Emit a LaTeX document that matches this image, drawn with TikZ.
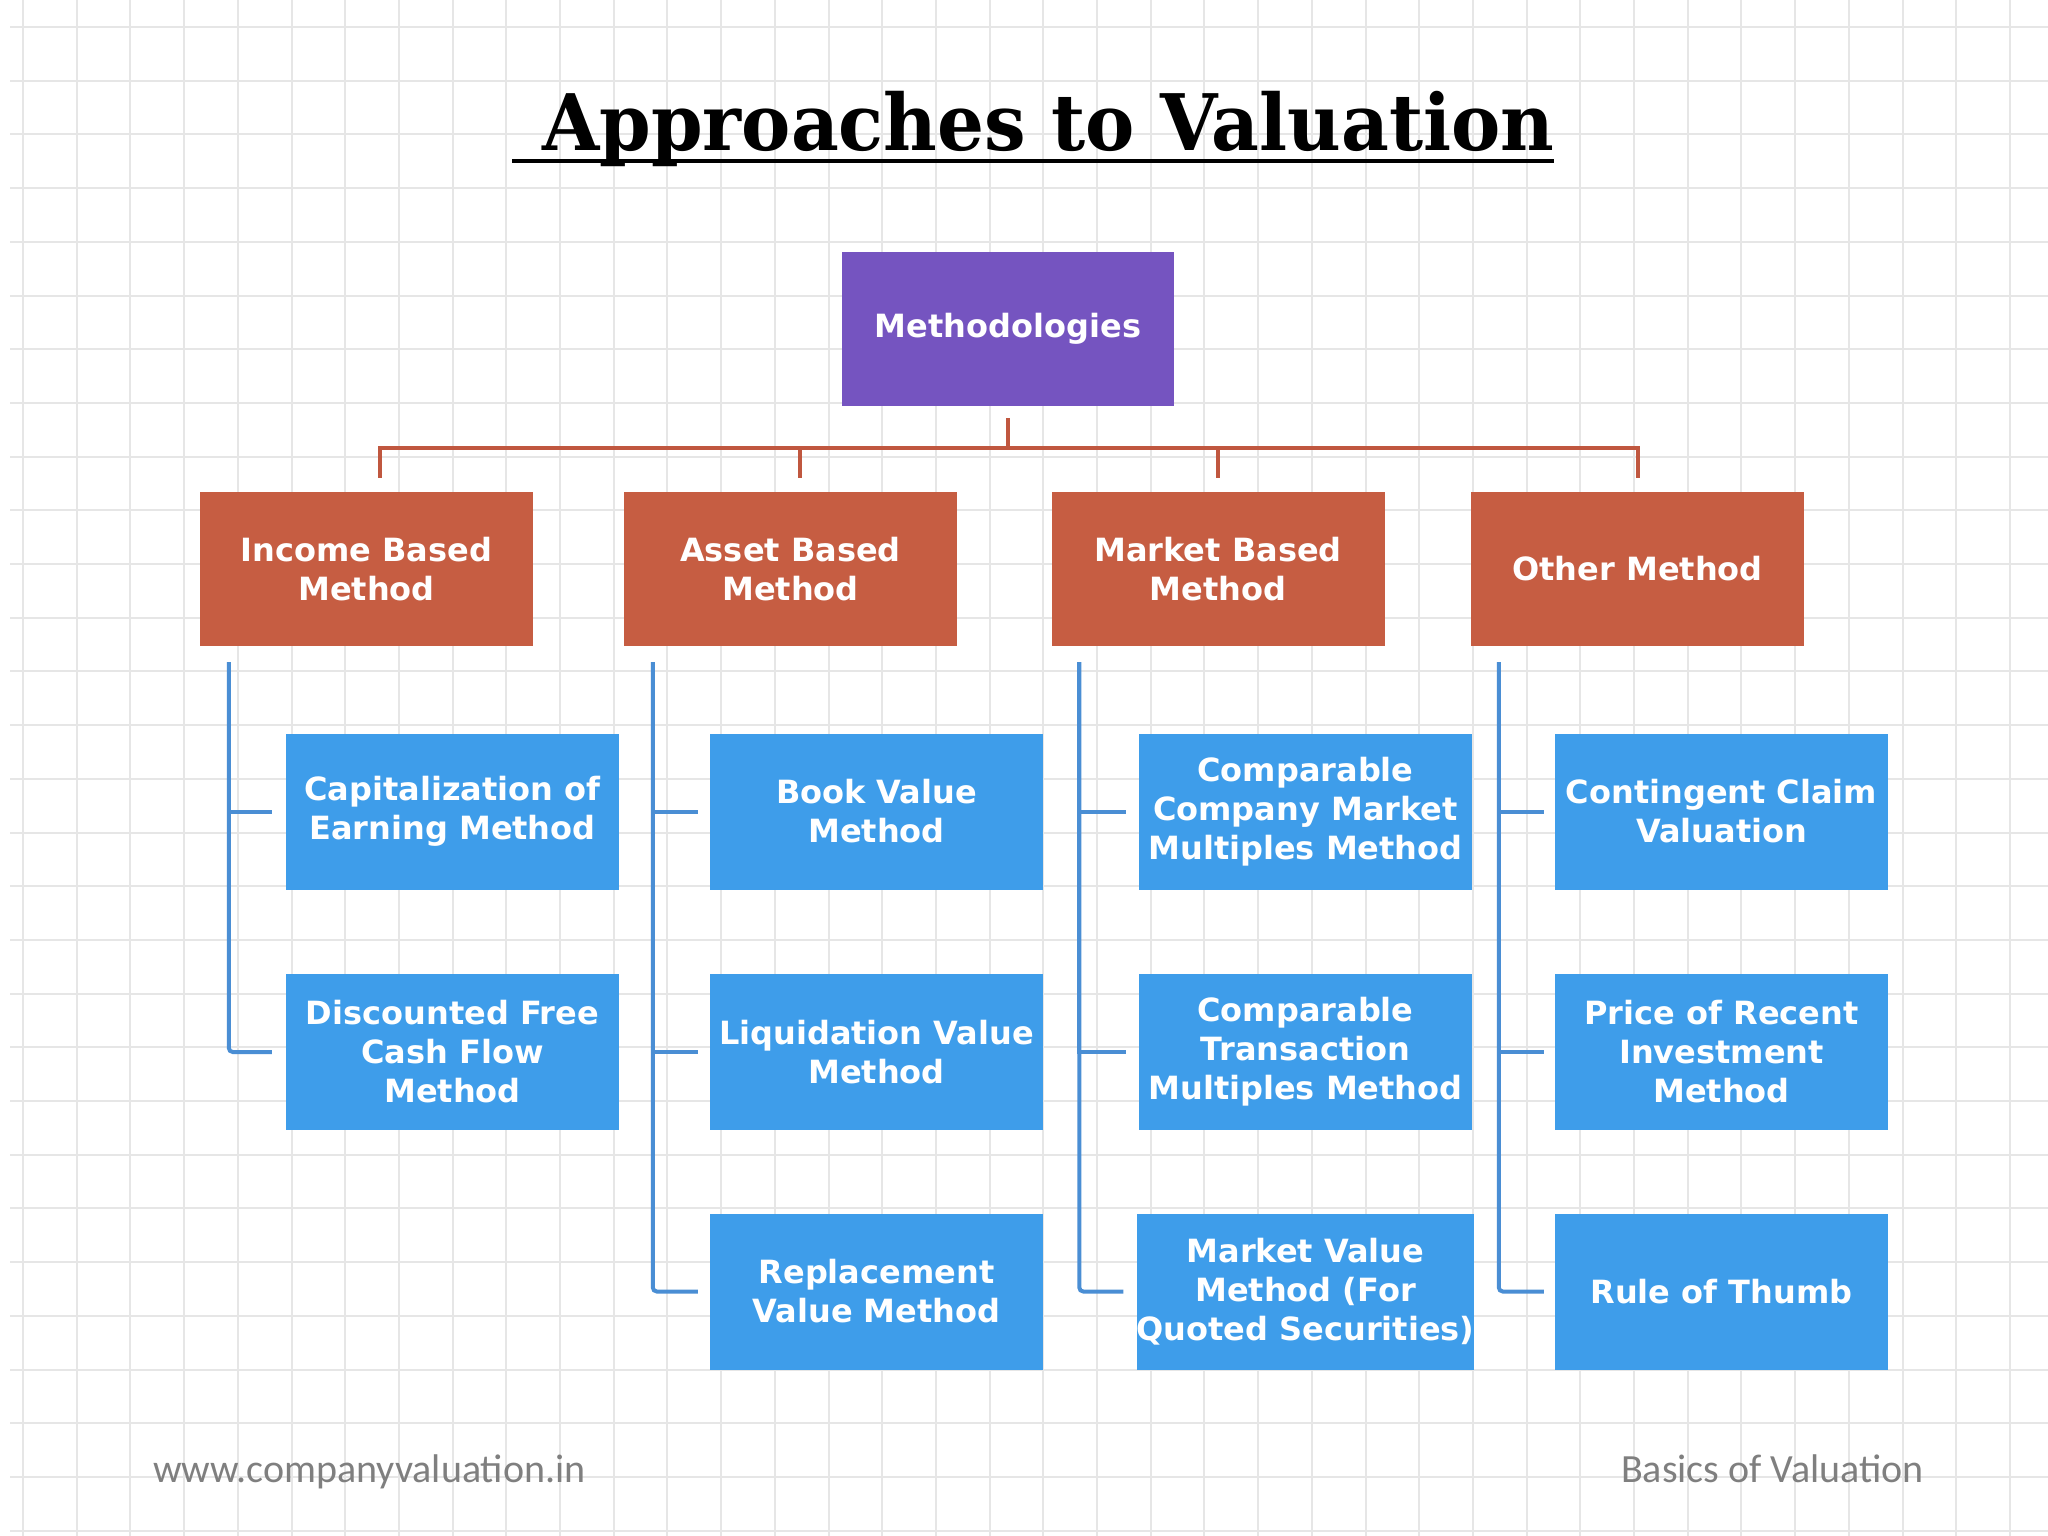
\documentclass[tikz,border=0pt]{standalone}
\usepackage{fontspec}
\usepackage{graphicx}
\setmainfont{DejaVu Sans}
\newfontfamily\boxfont{DejaVu Sans}
\newfontfamily\titlefont{DejaVu Serif}
\newfontfamily\footfont{Carlito}
\definecolor{purpleC}{HTML}{7554C0}
\definecolor{redC}{HTML}{C65D42}
\definecolor{redL}{HTML}{C0573F}
\definecolor{blueC}{HTML}{3E9DEA}
\definecolor{blueL}{HTML}{4A8ED4}
\definecolor{gridC}{HTML}{E6E6E6}
\definecolor{footC}{HTML}{7F7F7F}
\tikzset{
  boxbase/.style={inner sep=0pt, text=white, align=center,
    font=\boxfont\bfseries\fontsize{32}{39}\selectfont},
  methbox/.style={boxbase, fill=purpleC, minimum width=332pt, minimum height=154pt},
  lvltwo/.style={boxbase, fill=redC, minimum width=333pt, minimum height=154pt},
  lvlthree/.style={boxbase, fill=blueC, minimum width=333pt, minimum height=156pt},
  redline/.style={draw=redL, line width=4pt},
  blueline/.style={draw=blueL, line width=4pt},
  gridline/.style={draw=gridC, line width=2pt},
  foottext/.style={inner sep=0pt, text=footC, font=\footfont\fontsize{40}{48}\selectfont}
}
\begin{document}
\begin{tikzpicture}[x=1pt,y=-1pt]
\useasboundingbox[fill=white] (0,0) rectangle (2048,1536);
% grid background
\foreach \i in {0,...,37} \draw[gridline] ({23+53.7*\i},0) -- ({23+53.7*\i},1536);
\foreach \j in {0,...,28} \draw[gridline] (10,{27+53.7*\j}) -- (2048,{27+53.7*\j});

% title
\node[anchor=base west, inner sep=0pt] (title) at (542,150)
  {\resizebox{1012pt}{\height}{\titlefont\bfseries\fontsize{78}{90}\selectfont Approaches to Valuation}};
\draw[line width=4pt] ([xshift=-30pt,yshift=-11pt]title.base west) -- ([yshift=-11pt]title.base east);

% top node
\node[methbox] (meth) at (1008,329) {Methodologies};

% level two
\node[lvltwo] (inc) at (366.5,569) {Income Based\\Method};
\node[lvltwo] (ast) at (790.5,569) {Asset Based\\Method};
\node[lvltwo] (mkt) at (1218,569) {Market Based\\Method};
\node[lvltwo] (oth) at (1637.5,569) {Other Method};

% level three
\node[lvlthree] (cap) at (452.5,811.5) {Capitalization of\\Earning Method};
\node[lvlthree] (dcf) at (452.5,1052) {Discounted Free\\Cash Flow\\Method};

\node[lvlthree] (book) at (876.5,811.5) {Book Value\\Method};
\node[lvlthree] (liq) at (876.5,1052) {Liquidation Value\\Method};
\node[lvlthree] (rep) at (876.5,1291.5) {Replacement\\Value Method};

\node[lvlthree] (ccm) at (1305.5,811.5) {Comparable\\Company Market\\Multiples Method};
\node[lvlthree] (ctm) at (1305.5,1052) {Comparable\\Transaction\\Multiples Method};
\node[lvlthree] (mvm) at (1305.5,1291.5) {Market Value\\Method (For\\Quoted Securities)};

\node[lvlthree] (ccv) at (1721.5,811.5) {Contingent Claim\\Valuation};
\node[lvlthree] (pri) at (1721.5,1052) {Price of Recent\\Investment\\Method};
\node[lvlthree] (rot) at (1721.5,1291.5) {Rule of Thumb};

% red connectors
\draw[redline, shorten <=12pt, shorten >=14pt] (meth.south) -- ++(0,42) -| ([xshift=13pt]inc.north);
\draw[redline, shorten <=12pt, shorten >=14pt] (meth.south) -- ++(0,42) -| ([xshift=9pt]ast.north);
\draw[redline, shorten <=12pt, shorten >=14pt] (meth.south) -- ++(0,42) -| (mkt.north);
\draw[redline, shorten <=12pt, shorten >=14pt] (meth.south) -- ++(0,42) -| (oth.north);

% blue connectors
\draw[blueline, shorten <=16pt, shorten >=14pt] ([xshift=29pt]inc.south west) |- (cap.west);
\draw[blueline, shorten <=16pt, shorten >=14pt, rounded corners=4pt] ([xshift=29pt]inc.south west) |- (dcf.west);

\draw[blueline, shorten <=16pt, shorten >=12pt] ([xshift=29pt]ast.south west) |- (book.west);
\draw[blueline, shorten <=16pt, shorten >=12pt] ([xshift=29pt]ast.south west) |- (liq.west);
\draw[blueline, shorten <=16pt, shorten >=12pt, rounded corners=4pt] ([xshift=29pt]ast.south west) |- (rep.west);

\draw[blueline, shorten <=16pt, shorten >=13pt] ([xshift=28pt]mkt.south west) |- (ccm.west);
\draw[blueline, shorten <=16pt, shorten >=13pt] ([xshift=28pt]mkt.south west) |- (ctm.west);
\draw[blueline, shorten <=16pt, shorten >=13pt, rounded corners=4pt] ([xshift=28pt]mkt.south west) |- (mvm.west);

\draw[blueline, shorten <=16pt, shorten >=11pt] ([xshift=28pt]oth.south west) |- (ccv.west);
\draw[blueline, shorten <=16pt, shorten >=11pt] ([xshift=28pt]oth.south west) |- (pri.west);
\draw[blueline, shorten <=16pt, shorten >=11pt, rounded corners=4pt] ([xshift=28pt]oth.south west) |- (rot.west);

% footer
\node[foottext, anchor=base west] (url) at (153,1482) {www.companyvaluation.in};
\node[foottext, anchor=base east] (basics) at (1924,1482) {Basics of Valuation};
\end{tikzpicture}
\end{document}
